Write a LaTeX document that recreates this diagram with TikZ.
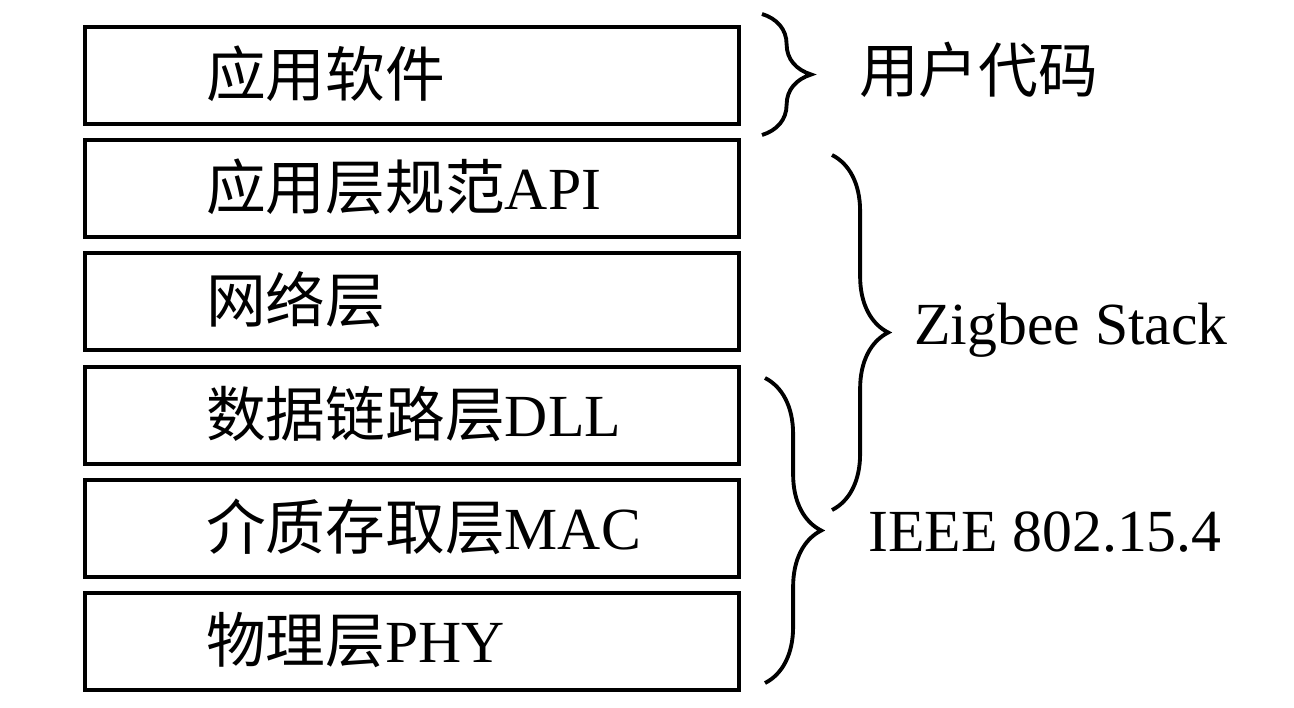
\documentclass[tikz,border=0pt]{standalone}
\usepackage{fontspec}
\setmainfont{Liberation Serif}
\newfontfamily\cjk{Noto Sans CJK SC}
\usetikzlibrary{decorations.pathreplacing}
\begin{document}
\begin{tikzpicture}[x=0.02cm,y=-0.02cm,
  box/.style={draw,line width=2.2pt,minimum width=654*0.02cm,minimum height=97*0.02cm,anchor=north west,inner sep=0pt},
  lbl/.style={anchor=west,font=\fontsize{34}{38}\selectfont\cjk},
  side/.style={anchor=west,font=\fontsize{34}{38}\selectfont},
  br/.style={decorate,line width=2.2pt,decoration={brace,amplitude=32pt}}]
\useasboundingbox (0,0) rectangle (1294,707);
\foreach \n/\y/\t in {a/25/{应用软件},b/138/{应用层规范{\rmfamily API}},c/251/{网络层},d/365/{数据链路层{\rmfamily DLL}},e/478/{介质存取层{\rmfamily MAC}},f/591/{物理层{\rmfamily PHY}}}{
  \node[box] (\n) at (83,\y) {};
  \node[lbl] (t\n) at (200,\y+49) {\t};
}
\coordinate (u1) at (762,14); \coordinate (u2) at (762,135);
\coordinate (z1) at (832,155); \coordinate (z2) at (832,510);
\coordinate (i1) at (765,378); \coordinate (i2) at (765,683);
\draw[br,decoration={amplitude=28pt}] (u1) -- (u2);
\draw[br] (z1) -- (z2);
\draw[br] (i1) -- (i2);
\node[side,font=\fontsize{34}{38}\selectfont\cjk] (lu) at (853,70) {用户代码};
\node[side] (lz) at (908,330) {Zigbee Stack};
\node[side] (li) at (862,532) {IEEE 802.15.4};
\end{tikzpicture}
\end{document}
